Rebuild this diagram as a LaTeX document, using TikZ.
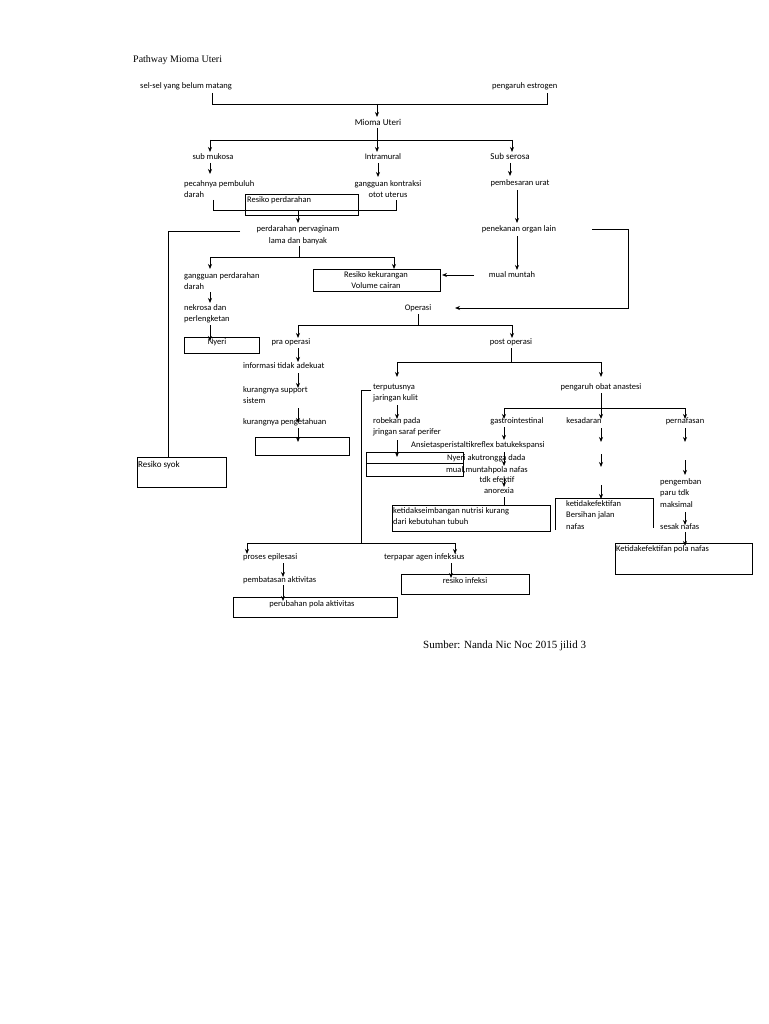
\documentclass[tikz,border=0pt]{standalone}
\usepackage{fontspec}
\setmainfont{Carlito}
\newfontfamily\serif{Liberation Serif}
\usetikzlibrary{arrows.meta}
\begin{document}
\begin{tikzpicture}[x=1pt,y=-1pt,
  txt/.style={anchor=west,inner sep=0pt,font=\fontsize{8.5}{11.5}\selectfont,align=left},
  ctxt/.style={txt,anchor=center,align=center},
  box/.style={draw,line width=0.8pt},
  ln/.style={line width=0.8pt},
  arr/.style={ln,-{Stealth[length=5pt,width=4pt]}}]
\useasboundingbox (0,0) rectangle (768,1024);
% header
\node[txt,font=\serif\fontsize{10}{12}\selectfont] (title) at (133,60) {Pathway Mioma Uteri};
\node[txt] (sel) at (140,86) {sel-sel yang belum matang};
\node[txt] (estro) at (492,86) {pengaruh estrogen};
\draw[ln] (212,93) -- (212,104) -- (547,104) -- (547,93);
\draw[arr] (377,104) -- (377,117);
\node[ctxt,font=\fontsize{9}{11}\selectfont] (mioma) at (378,122) {Mioma Uteri};
\draw[ln] (377,128) -- (377,140);
\draw[ln] (210,140) -- (512,140);
\foreach \x in {210,377,512} \draw[arr] (\x,140) -- (\x,152);
\node[ctxt] (submuk) at (213,157) {sub mukosa};
\node[ctxt] (intra) at (383,157) {Intramural};
\node[ctxt,font=\fontsize{9}{11}\selectfont] (subser) at (510,156) {Sub serosa};
\draw[arr] (210,163) -- (210,174);
\draw[arr] (378,163) -- (378,177);
\draw[arr] (510,163) -- (510,176);
\node[txt] (pecah) at (184,189) {pecahnya pembuluh\\darah};
\node[ctxt] (kontraksi) at (388,189) {gangguan kontraksi\\otot uterus};
\node[ctxt] (urat) at (520,183) {pembesaran urat};
\node[box,minimum width=113pt,minimum height=21pt,anchor=north west] (rperd) at (245,194) {};
\node[txt] at (247,200) {Resiko perdarahan};
\draw[ln] (213,200) -- (213,210) -- (396,210) -- (396,200);
\draw[arr] (298,210) -- (298,223);
\node[ctxt] (pervag) at (298,235) {perdarahan pervaginam\\lama dan banyak};
\node[box,minimum width=89pt,minimum height=30pt,anchor=north west] (syok) at (137,457) {};
\node[txt,font=\fontsize{9}{11}\selectfont] at (138,465) {Resiko syok};
\draw[ln] (240,231) -- (168,231) -- (168,457);
% sub serosa branch
\draw[arr] (517,190) -- (517,223);
\node[ctxt] (tekan) at (519,229) {penekanan organ lain};
\draw[arr] (517,236) -- (517,270);
\node[ctxt] (mual) at (512,275) {mual muntah};
\node[box,minimum width=127pt,minimum height=22pt,anchor=north west] (rkvc) at (313,269) {};
\node[ctxt] at (376,280) {Resiko kekurangan\\Volume cairan};
\draw[arr] (474,275) -- (442,275);
\draw[arr] (592,229) -- (628,229) -- (628,308) -- (455,308);
\node[ctxt] (operasi) at (418,308) {Operasi};
% perdarahan branch
\draw[ln] (299,246) -- (299,257);
\draw[ln] (210,257) -- (394,257);
\draw[arr] (210,257) -- (210,269);
\draw[arr] (394,257) -- (394,269);
\node[txt] (gperd) at (184,281) {gangguan perdarahan\\darah};
\draw[arr] (210,292) -- (210,303);
\node[txt] (nekrosa) at (184,314) {nekrosa dan\\perlengketan};
\draw[arr] (210,325) -- (210,341);
\node[box,minimum width=75pt,minimum height=16pt,anchor=north west] (nyeri) at (184,337) {};
\node[ctxt] at (217,342) {Nyeri};
% operasi
\draw[ln] (418,314) -- (418,325);
\draw[ln] (298,325) -- (512,325);
\draw[arr] (298,325) -- (298,338);
\draw[arr] (512,325) -- (512,338);
\node[ctxt] (pra) at (291,342) {pra operasi};
\node[ctxt] (post) at (511,342) {post operasi};
\draw[arr] (298,348) -- (298,362);
\node[txt] (info) at (243,366) {informasi tidak adekuat};
\draw[arr] (298,373) -- (298,388);
\node[txt] (support) at (243,395) {kurangnya support\\sistem};
\draw[arr] (298,408) -- (298,423);
\node[txt] (tahu) at (243,422) {kurangnya pengetahuan};
\draw[arr] (298,428) -- (298,442);
\node[box,minimum width=94pt,minimum height=18pt,anchor=north west] (bpengetahuan) at (255,437) {};
% post operasi
\draw[ln] (511,348) -- (511,362);
\draw[ln] (397,362) -- (601,362);
\draw[arr] (397,362) -- (397,377);
\draw[arr] (601,362) -- (601,377);
\node[txt] (putus) at (373,393) {terputusnya\\jaringan kulit};
\node[ctxt] (obat) at (601,387) {pengaruh obat anastesi};
\draw[ln] (371,390) -- (361,390) -- (361,543);
\draw[ln] (247,543) -- (455,543);
\draw[arr] (247,543) -- (247,554);
\draw[arr] (455,543) -- (455,554);
\draw[arr] (397,405) -- (397,419);
\node[txt] (robek) at (373,427) {robekan pada\\jringan saraf perifer};
\draw[arr] (397,440) -- (397,457);
\node[box,minimum width=97pt,minimum height=11pt,anchor=north west] (bnyeri1) at (366,452) {};
\node[box,minimum width=97pt,minimum height=13pt,anchor=north west] (bnyeri2) at (366,463) {};
% anastesi branches
\draw[ln] (601,393) -- (601,408);
\draw[ln] (504,408) -- (685,408);
\foreach \x in {504,601,685} \draw[arr] (\x,408) -- (\x,419);
\node[ctxt] (gastro) at (517,421) {gastrointestinal};
\node[ctxt] (sadar) at (584,421) {kesadaran};
\node[ctxt] (nafas) at (685,421) {pernafasan};
\draw[arr] (504,427) -- (504,440);
\draw[arr] (504,452) -- (504,466);
\draw[arr] (504,478) -- (504,487);
\node[txt] (ansietas) at (411,445) {Ansietasperistaltikreflex batukekspansi};
\node[txt] (akut) at (447,458) {Nyeri akutrongga dada};
\node[txt] (mualpola) at (446,470) {mual,muntahpola nafas};
\node[ctxt] (tdk) at (497,480) {tdk efektif};
\node[ctxt] (anorexia) at (499,491) {anorexia};
\draw[ln] (504,497) -- (504,506);
\node[box,minimum width=158pt,minimum height=26pt,anchor=north west] (bnutrisi) at (392,505) {};
\node[txt] at (393,516) {ketidakseimbangan nutrisi kurang\\dari kebutuhan tubuh};
\draw[arr] (601,428) -- (601,442);
\draw[arr] (601,454) -- (601,467);
\draw[arr] (601,485) -- (601,499);
\draw[ln] (555,530) -- (555,498) -- (653,498) -- (653,528);
\node[txt] (bersihan) at (566,515) {ketidakefektifan\\Bersihan jalan\\nafas};
\draw[arr] (685,428) -- (685,442);
\draw[arr] (685,460) -- (685,475);
\node[txt] (kembang) at (660,493) {pengemban\\paru tdk\\maksimal};
\draw[arr] (685,512) -- (685,525);
\node[txt] (sesak) at (660,527) {sesak nafas};
\draw[arr] (685,532) -- (685,546);
\node[box,minimum width=137pt,minimum height=31pt,anchor=north west] (bpola) at (615,543) {};
\node[txt] at (616,549) {Ketidakefektifan pola nafas};
% bottom
\node[txt] (epilesasi) at (243,557) {proses epilesasi};
\draw[arr] (283,563) -- (283,577);
\node[txt] (batas) at (243,580) {pembatasan aktivitas};
\draw[arr] (283,585) -- (283,601);
\node[box,minimum width=164pt,minimum height=20pt,anchor=north west] (bpola2) at (233,597) {};
\node[ctxt] at (312,604) {perubahan pola aktivitas};
\node[txt] (agen) at (384,557) {terpapar agen infeksius};
\draw[arr] (451,563) -- (451,578);
\node[box,minimum width=128pt,minimum height=20pt,anchor=north west] (binfeksi) at (401,574) {};
\node[ctxt] at (465,581) {resiko infeksi};
\node[txt,font=\serif\fontsize{11}{13}\selectfont] (sumber) at (423,646) {Sumber: Nanda Nic Noc 2015 jilid 3};
\end{tikzpicture}
\end{document}
